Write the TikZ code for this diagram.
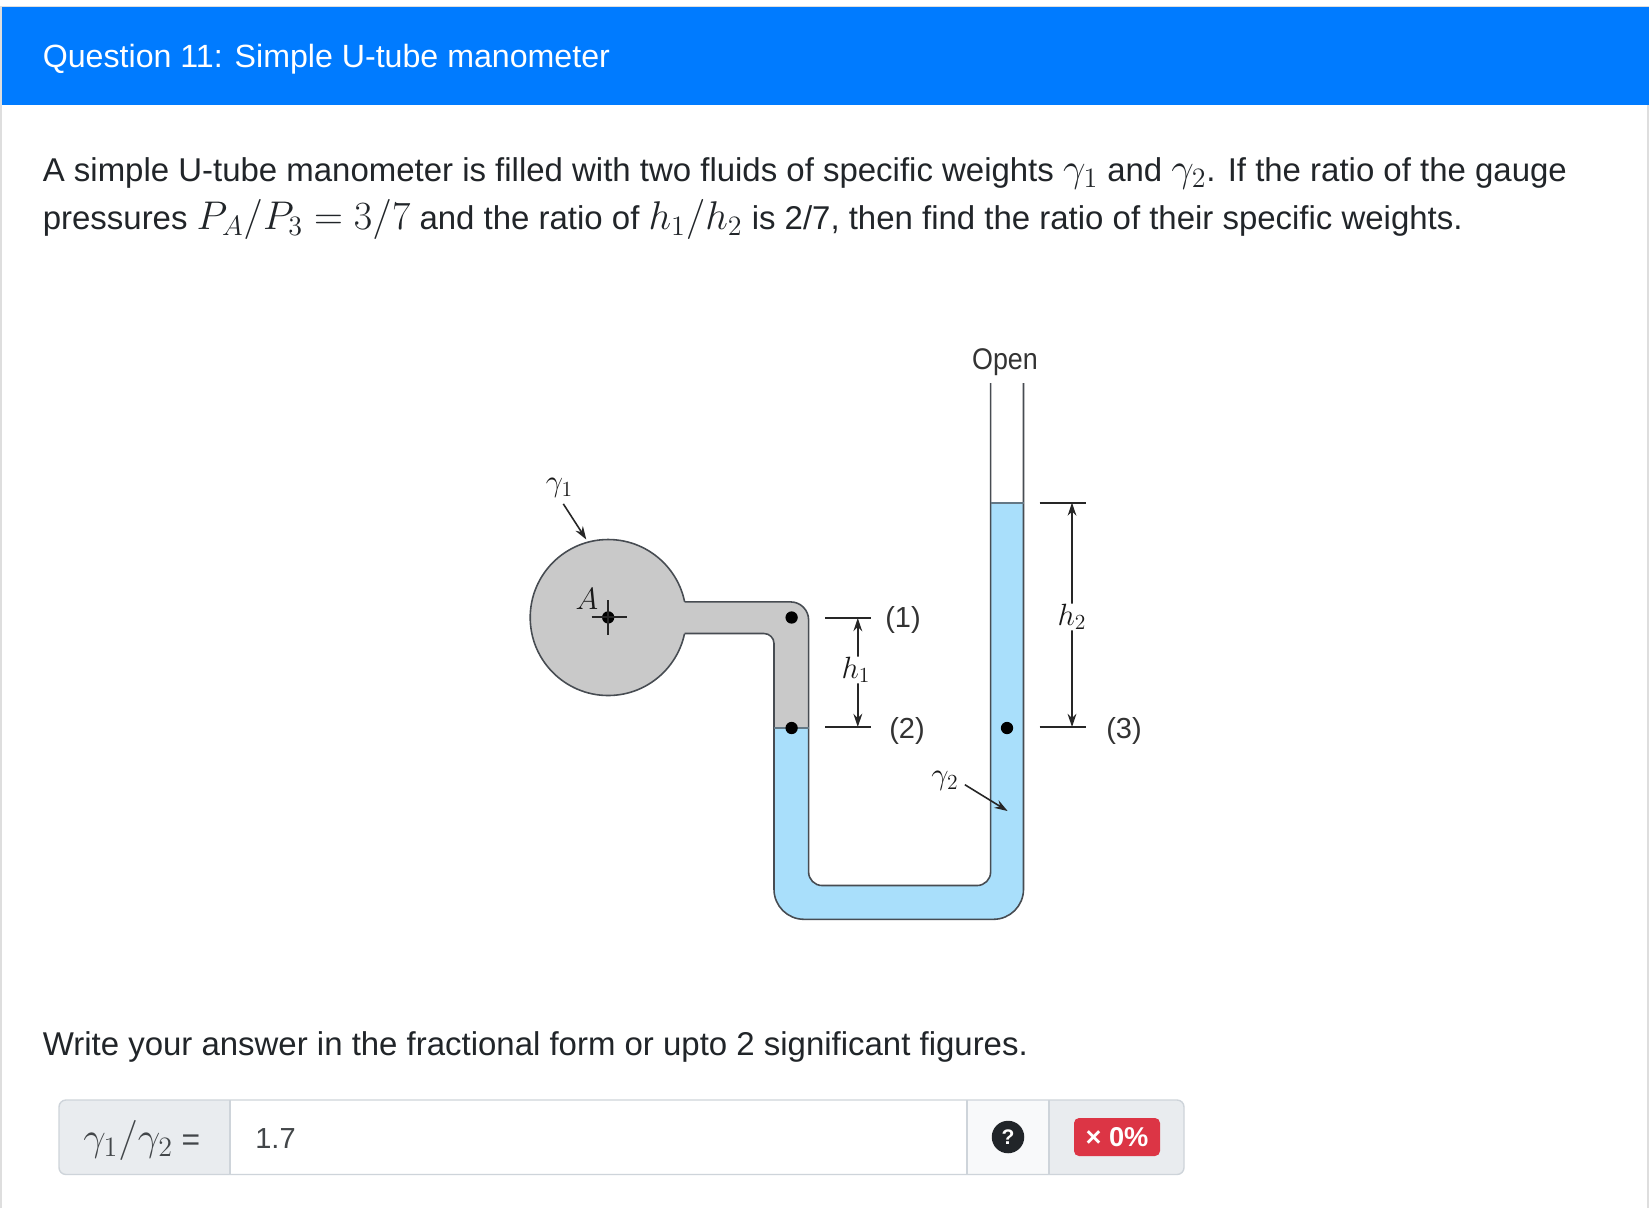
\documentclass[tikz,border=0pt]{standalone}
\usepackage{fix-cm}
\usepackage{amsmath}
\usepackage[no-math]{fontspec}
\setmainfont{Liberation Sans}
\newfontfamily\figfont[FakeStretch=0.9]{Liberation Sans}
\usetikzlibrary{arrows.meta}
\definecolor{headblue}{HTML}{007BFF}
\definecolor{inktext}{HTML}{212529}
\definecolor{cardline}{HTML}{DEDEDE}
\definecolor{fluidblue}{HTML}{A9DFFB}
\definecolor{fluidgray}{HTML}{C9C9C9}
\definecolor{tubeink}{HTML}{474C52}
\definecolor{addonbg}{HTML}{E9ECEF}
\definecolor{addonline}{HTML}{CED4DA}
\definecolor{helpbg}{HTML}{F8F9FA}
\definecolor{badgered}{HTML}{DC3545}
\newcommand{\bigmath}[1]{{\fontsize{22.8}{24}\selectfont$#1$}}

\begin{document}
\begin{tikzpicture}[x=0.02cm,y=-0.02cm,>={Stealth[length=7.5pt,width=5pt]}]
  \tikzstyle{bodytext}=[anchor=base west,inner sep=0pt,text=inktext,font=\fontsize{18.76}{22}\selectfont]
  \tikzstyle{figtext}=[inner sep=0pt,text=black!80,font=\fontsize{16.5}{18}\selectfont]
  \tikzstyle{figmath}=[inner sep=0pt,text=black!90,font=\fontsize{17.5}{18}\selectfont]
  \tikzstyle{tube}=[line width=0.9pt,draw=tubeink]
  \tikzstyle{tick}=[line width=1.1pt,draw=black!85]
  \tikzstyle{dim}=[line width=0.9pt,draw=black!85,<-]
  \tikzstyle{spot}=[circle,fill=black,minimum size=7pt,inner sep=0pt]
  \tikzstyle{addon}=[draw=addonline,line width=0.8pt]
  \useasboundingbox (0,0) rectangle (1649,1208);
  % card and header
  \fill[white] (0,0) rectangle (1649,1208);
  \draw[draw=cardline,line width=1.2pt] (1,1208) -- (1,7) -- (1648,7) -- (1648,1208);
  \fill[headblue] (2,7) rectangle (1649,105);
  \node[anchor=base west,inner sep=0pt,text=white,font=\fontsize{18.3}{22}\selectfont] (title) at (42.5,67)
    {Question 11: Simple U-tube manometer};
  \node[bodytext] (line_1) at (42.5,181)
    {A simple U-tube manometer is filled with two fluids of specific weights \bigmath{\gamma_1} and \bigmath{\gamma_2}. If the ratio of the gauge};
  \node[bodytext] (line_2) at (42.5,229)
    {pressures \bigmath{P_A/P_3 = 3/7} and the ratio of \bigmath{h_1/h_2} is 2/7, then find the ratio of their specific weights.};
  \node[bodytext] (line_3) at (42.5,1055)
    {Write your answer in the fractional form or upto 2 significant figures.};
  % fluids
  \draw[tube,fill=fluidgray] (608.2,617.5) circle (78*0.02cm);
  \fill[fluidgray,rounded corners=0.36cm] (670,601.9) -- (808.6,601.9) [sharp corners] -- (808.6,727.8) -- (774,727.8)
    [rounded corners=0.2cm] -- (774,633.5) [sharp corners] -- (670,633.5) -- cycle;
  \fill[fluidblue,rounded corners=0.6cm] (774,727.8) -- (774,919.3) -- (1023.5,919.3) [sharp corners] -- (1023.5,503.1) -- (990.6,503.1)
    [rounded corners=0.27cm] -- (990.6,885.5) -- (808.6,885.5) [sharp corners] -- (808.6,727.8) -- cycle;
  % tube walls
  \draw[tube,rounded corners=0.6cm] (1023.5,383) -- (1023.5,919.3) -- (774,919.3) [rounded corners=0.2cm] -- (774,633.5) -- (684.7,633.5);
  \draw[tube,rounded corners=0.27cm] (990.6,383) -- (990.6,885.5) -- (808.6,885.5) [rounded corners=0.36cm] -- (808.6,601.9) -- (684.7,601.9);
  \draw[line width=1.1pt,draw=tubeink!70!fluidblue] (774,727.8) -- (808.6,727.8);
  \draw[line width=1.1pt,draw=tubeink!70!fluidblue] (990.6,503.1) -- (1023.5,503.1);
  % points
  \node[spot] (P_1) at (791.6,617.5) {};
  \node[spot] (P_2) at (791.6,728) {};
  \node[spot] (P_3) at (1007,728) {};
  \node[circle,fill=black,minimum size=7pt,inner sep=0pt] (P_A) at (608.2,617.4) {};
  \coordinate (A_w) at (591.7,617.4);
  \coordinate (A_e) at (627,617.4);
  \coordinate (A_n) at (608.2,600);
  \coordinate (A_s) at (608.2,635);
  \draw[tick] (A_w) -- (A_e);
  \draw[tick] (A_n) -- (A_s);
  \node[figmath] (A) at (586.8,598.5) {$A$};
  % dimensions
  \coordinate (T_1w) at (825,618);
  \coordinate (T_1e) at (871,618);
  \coordinate (T_2w) at (825,727);
  \coordinate (T_2e) at (871,727);
  \coordinate (T_3w) at (1039.5,502.6);
  \coordinate (T_3e) at (1085.5,502.6);
  \coordinate (T_4w) at (1039.5,727);
  \coordinate (T_4e) at (1085.5,727);
  \draw[tick] (T_1w) -- (T_1e);
  \draw[tick] (T_2w) -- (T_2e);
  \draw[tick] (T_3w) -- (T_3e);
  \draw[tick] (T_4w) -- (T_4e);
  \coordinate (D_1) at (857.8,618);
  \coordinate (D_2) at (857.8,727);
  \coordinate (D_3) at (1072,502.6);
  \coordinate (D_4) at (1072,727);
  \node[figmath] (h_1) at (856,670) {$h_1$};
  \node[figmath] (h_2) at (1072,617) {$h_2$};
  \draw[dim] (D_1) -- (D_1 |- h_1.north) -- ++(0,-7);
  \draw[dim] (D_2) -- (D_2 |- h_1.south) -- ++(0,7);
  \draw[dim] (D_3) -- (D_3 |- h_2.north) -- ++(0,-8);
  \draw[dim] (D_4) -- (D_4 |- h_2.south) -- ++(0,8);
  % labels
  \node[figtext] (n_1) at (903,620) {(1)};
  \node[figtext] (n_2) at (907,731) {(2)};
  \node[figtext] (n_3) at (1124,731) {(3)};
  \node[figtext,font=\figfont\fontsize{17}{18}\selectfont] (open) at (1005,362) {Open};
  \node[figmath] (gam_1) at (559.5,488) {$\gamma_1$};
  \node[figmath] (gam_2) at (945,781) {$\gamma_2$};
  \coordinate (tip_1) at (586.3,539.5);
  \coordinate (tip_2) at (1007.6,811);
  \draw[line width=0.9pt,draw=black!85,->,shorten <=4pt] (gam_1.south) -- (tip_1);
  \draw[line width=0.9pt,draw=black!85,->,shorten <=4pt] (gam_2.east) -- (tip_2);
  % answer bar
  \fill[addonbg,rounded corners=0.14cm] (59,1100) rectangle (1184,1174.5);
  \fill[white] (230,1100) rectangle (967,1174.5);
  \fill[helpbg] (967,1100) rectangle (1049,1174.5);
  \draw[addon,rounded corners=0.14cm] (59,1100) rectangle (1184,1174.5);
  \draw[addon] (230,1100) -- (230,1174.5);
  \draw[addon] (967,1100) -- (967,1174.5);
  \draw[addon] (1049,1100) -- (1049,1174.5);
  \node[anchor=base west,inner sep=0pt,text=inktext!85,font=\fontsize{18.1}{22}\selectfont] (ratio) at (83,1150)
    {\bigmath{\gamma_1/\gamma_2} =};
  \node[anchor=base west,inner sep=0pt,text=inktext!85,font=\fontsize{16.5}{22}\selectfont] (value) at (255,1148) {1.7};
  \node[circle,fill=inktext,text=white,minimum size=18.5pt,inner sep=0pt,font=\bfseries\fontsize{12}{14}\selectfont] (help) at (1008,1137) {?};
  \node[rounded corners=0.1cm,fill=badgered,text=white,minimum width=86*0.02cm,minimum height=38*0.02cm,inner sep=0pt,font=\bfseries\fontsize{15.5}{16}\selectfont] (badge) at (1117,1137) {× 0\%};
\end{tikzpicture}
\end{document}
